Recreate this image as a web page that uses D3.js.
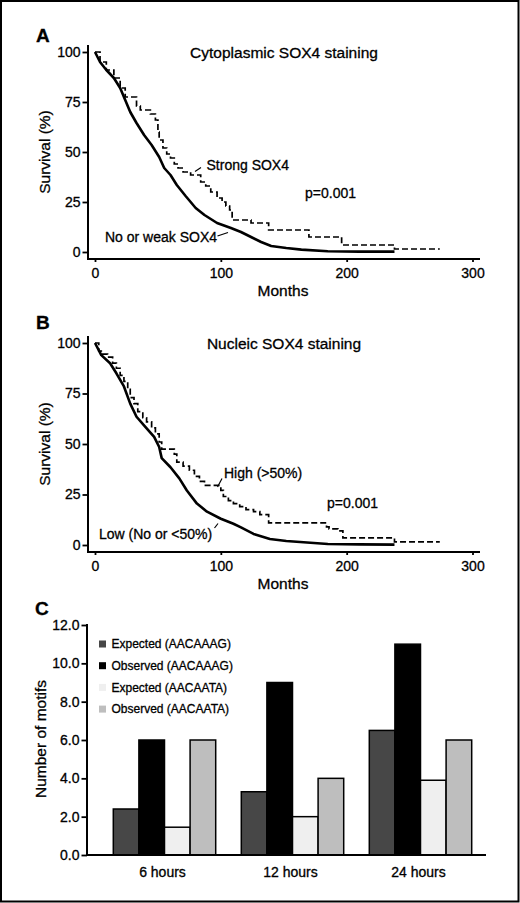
<!DOCTYPE html>
<html>
<head>
<meta charset="utf-8">
<script src="https://cdn.jsdelivr.net/npm/d3@7"></script>
<style>
  body { margin: 0; background: #fff; }
  svg text { font-family: "Liberation Sans", Arial, Helvetica, sans-serif; fill: #000; stroke: #000; stroke-width: 0.3px; }
</style>
</head>
<body>
<div id="chart"></div>
<script>
// ---- data ----
const monthTicks = [0, 100, 200, 300];
const survivalTicks = [0, 25, 50, 75, 100];

// [months, survival %]
const cytoWeak = [[0,100],[4,95],[9,91],[15,87],[20,82],[24,76],[28,70],[33,64.5],[39,58.5],[45,53.5],[51,47.5],[55,42],[60,38.5],[65,33.5],[72,28],[80,22],[87,18.5],[97,14.5],[108,12],[116,10],[124,7.5],[132,5],[140,3],[152,2],[164,1.2],[185,0.4],[210,0.2],[238,0.2]];
const cytoStrong = [[0,100],[4,95],[9,91],[15,87],[20,82],[24,77.5],[33,73],[36,71],[44,69],[48,66],[50,60],[51,56],[54,52],[57,49],[60,47],[63,44],[66,42],[70,40],[76,38.5],[84,35],[88,33],[92,30],[97,27],[101,25],[104,23],[107,21],[109,16],[124,14.5],[138,11],[170,7.5],[196,3.5],[238,1.5],[274,1.5]];
const nucLow = [[0,100],[5,94],[12,90],[17,85],[23,78.5],[28,70],[33,63.5],[40,58.5],[47,53.5],[51,48.5],[53,43],[60,38.5],[67,33],[73,27],[81,20.5],[89,16.5],[100,13],[110,10.5],[116,8.7],[126,5.5],[139,3],[152,2],[163,1.5],[185,0.5],[210,0.3],[238,0.2]];
const nucHigh = [[0,100],[3,96],[5,94.5],[10,93],[14,90],[17,87.5],[20,84],[23,81],[26,77],[28,73],[31,70],[34,66],[38,63],[41,61],[45,58],[48,55],[51,51],[53,47.5],[63,45],[65,41],[70,39],[75,37],[79,34],[83,31.5],[87,29.5],[100,27],[102,24],[106,22],[110,20.5],[115,19],[120,17.5],[126,16.5],[131,15],[138,11],[184,9],[186,8],[193,7],[197,3.5],[238,1.5],[274,1.5]];

const timepoints = ['6 hours', '12 hours', '24 hours'];
const motifSeries = ['Expected (AACAAAG)', 'Observed (AACAAAG)', 'Expected (AACAATA)', 'Observed (AACAATA)'];
const expectedAAG = [2.4, 3.3, 6.5];
const observedAAG = [6.0, 9.0, 11.0];
const expectedAATA = [1.45, 2.0, 3.9];
const observedAATA = [6.0, 4.0, 6.0];
const motifTicks = [0, 2, 4, 6, 8, 10, 12];
const motifColors = ['#474747', '#000000', '#efefef', '#bebebe'];

const W = 520, H = 903;
const svg = d3.select('#chart').append('svg')
    .attr('width', W)
    .attr('height', H);

svg.append('rect')
    .attr('x', 1).attr('y', 1)
    .attr('width', W - 2.5).attr('height', H - 2.5)
    .attr('fill', 'none')
    .attr('stroke', '#000')
    .attr('stroke-width', 2);

// one Kaplan-Meier panel
function drawKM(p) {
    const g = svg.append('g');
    const x = d3.scaleLinear().domain([0, 300]).range([95, 472.5]);
    const y = d3.scaleLinear().domain([0, 100]).range([p.y0, p.y100]);
    const axisY = p.y0 + 7;

    // y axis
    g.append('g')
        .attr('transform', 'translate(88,0)')
        .call(d3.axisLeft(y).tickValues(survivalTicks).tickSize(5.5).tickPadding(2))
        .call(a => a.select('.domain').remove())
        .call(a => a.selectAll('line').attr('stroke-width', 1.8))
        .call(a => a.selectAll('text').style('font-size', '14px'));
    g.append('line')
        .attr('x1', 88).attr('x2', 88)
        .attr('y1', p.y100 - 7).attr('y2', axisY + 1)
        .attr('stroke', '#000').attr('stroke-width', 2);

    // x axis
    g.append('g')
        .attr('transform', `translate(0,${axisY})`)
        .call(d3.axisBottom(x).tickValues(monthTicks).tickSize(3).tickPadding(5.7))
        .call(a => a.select('.domain').remove())
        .call(a => a.selectAll('line').attr('stroke-width', 1.8))
        .call(a => a.selectAll('text').style('font-size', '14px'));
    g.append('line')
        .attr('x1', 87).attr('x2', 480)
        .attr('y1', axisY).attr('y2', axisY)
        .attr('stroke', '#000').attr('stroke-width', 2);

    const solid = d3.line().x(d => x(d[0])).y(d => y(d[1])).curve(d3.curveLinear);
    const step = d3.line().x(d => x(d[0])).y(d => y(d[1])).curve(d3.curveStepAfter);

    g.append('path')
        .attr('d', step(p.high))
        .attr('fill', 'none')
        .attr('stroke', '#000')
        .attr('stroke-width', 1.7)
        .attr('stroke-dasharray', '6,3');

    g.append('path')
        .attr('d', solid(p.low))
        .attr('fill', 'none')
        .attr('stroke', '#000')
        .attr('stroke-width', 2.6)
        .attr('stroke-linejoin', 'round');

    // labels
    g.append('text')
        .attr('x', 36).attr('y', p.letterY)
        .style('font-size', '19px').style('font-weight', 'bold')
        .text(p.letter);
    g.append('text')
        .attr('x', 284).attr('y', p.titleY)
        .attr('text-anchor', 'middle')
        .style('font-size', '15.5px')
        .text(p.title);
    g.append('text')
        .attr('transform', `translate(49.5,${(p.y0 + p.y100) / 2}) rotate(-90)`)
        .attr('text-anchor', 'middle')
        .style('font-size', '15.5px')
        .text('Survival (%)');
    g.append('text')
        .attr('x', 283).attr('y', axisY + 37)
        .attr('text-anchor', 'middle')
        .style('font-size', '15.5px')
        .text('Months');

    // curve annotations
    g.append('text')
        .attr('x', p.highLabel[0]).attr('y', p.highLabel[1])
        .style('font-size', '14px')
        .text(p.highText);
    g.append('line')
        .attr('x1', p.highLeader[0]).attr('y1', p.highLeader[1])
        .attr('x2', p.highLeader[2]).attr('y2', p.highLeader[3])
        .attr('stroke', '#000').attr('stroke-width', 1.2);
    g.append('text')
        .attr('x', p.lowLabel[0]).attr('y', p.lowLabel[1])
        .style('font-size', '14px')
        .text(p.lowText);
    g.append('line')
        .attr('x1', p.lowLeader[0]).attr('y1', p.lowLeader[1])
        .attr('x2', p.lowLeader[2]).attr('y2', p.lowLeader[3])
        .attr('stroke', '#000').attr('stroke-width', 1.2);
    g.append('text')
        .attr('x', p.pPos[0]).attr('y', p.pPos[1])
        .style('font-size', '14px')
        .text('p=0.001');
}

drawKM({
    y0: 252, y100: 52, letter: 'A', letterY: 42, titleY: 57.5,
    title: 'Cytoplasmic SOX4 staining',
    low: cytoWeak, high: cytoStrong,
    highText: 'Strong SOX4', highLabel: [206.5, 170], highLeader: [195, 171.5, 201, 167.5],
    lowText: 'No or weak SOX4', lowLabel: [105, 241.5], lowLeader: [217.5, 236, 228, 232.5],
    pPos: [305, 198]
});

drawKM({
    y0: 545, y100: 343, letter: 'B', letterY: 328.5, titleY: 349,
    title: 'Nucleic SOX4 staining',
    low: nucLow, high: nucHigh,
    highText: 'High (>50%)', highLabel: [224, 478], highLeader: [217.5, 487, 222, 478.5],
    lowText: 'Low (No or <50%)', lowLabel: [99, 538.5], lowLeader: [214.5, 528, 218, 523.5],
    pPos: [327, 508]
});

// ---- panel C: motif counts ----
const cg = svg.append('g');
const yC = d3.scaleLinear().domain([0, 12]).range([855, 625]);
const xC = d3.scaleBand().domain(timepoints).range([100.5, 484.5]).paddingInner(0.2).paddingOuter(0.1);
const xS = d3.scaleBand().domain(motifSeries).range([0, xC.bandwidth()]);
const seriesValues = [expectedAAG, observedAAG, expectedAATA, observedAATA];

cg.append('g')
    .attr('transform', 'translate(87,0)')
    .call(d3.axisLeft(yC).tickValues(motifTicks).tickFormat(d3.format('.1f')).tickSize(5.5).tickPadding(2))
    .call(a => a.select('.domain').remove())
    .call(a => a.selectAll('line').attr('stroke-width', 1.8))
    .call(a => a.selectAll('text').style('font-size', '14px'));

const groups = cg.selectAll('.group')
    .data(timepoints)
    .enter()
    .append('g')
    .attr('class', 'group')
    .attr('transform', d => `translate(${xC(d)},0)`);

groups.selectAll('rect')
    .data((t, i) => motifSeries.map((s, j) => ({ series: s, value: seriesValues[j][i], color: motifColors[j] })))
    .enter()
    .append('rect')
    .attr('x', d => xS(d.series))
    .attr('y', d => yC(d.value))
    .attr('width', xS.bandwidth())
    .attr('height', d => yC(0) - yC(d.value))
    .attr('fill', d => d.color)
    .attr('stroke', '#000')
    .attr('stroke-width', 1.5);

cg.append('line')
    .attr('x1', 87).attr('x2', 87).attr('y1', 624).attr('y2', 856)
    .attr('stroke', '#000').attr('stroke-width', 2);
cg.append('line')
    .attr('x1', 86).attr('x2', 486).attr('y1', 855).attr('y2', 855)
    .attr('stroke', '#000').attr('stroke-width', 2);

cg.selectAll('.tlabel')
    .data(timepoints)
    .enter()
    .append('text')
    .attr('class', 'tlabel')
    .attr('x', d => xC(d) + xC.bandwidth() / 2 - 2)
    .attr('y', 876.5)
    .attr('text-anchor', 'middle')
    .style('font-size', '14px')
    .text(d => d);

// legend
const legend = cg.selectAll('.legend')
    .data(motifSeries)
    .enter()
    .append('g')
    .attr('class', 'legend')
    .attr('transform', (d, i) => `translate(99,${644 + i * 21.7})`);
legend.append('rect')
    .attr('x', 0).attr('y', -3.5)
    .attr('width', 7).attr('height', 7)
    .attr('fill', (d, i) => motifColors[i]);
legend.append('text')
    .attr('x', 12.5).attr('y', 4.3)
    .style('font-size', '12px')
    .text(d => d);

cg.append('text')
    .attr('x', 35).attr('y', 615)
    .style('font-size', '19px').style('font-weight', 'bold')
    .text('C');
cg.append('text')
    .attr('transform', 'translate(46,739) rotate(-90)')
    .attr('text-anchor', 'middle')
    .style('font-size', '15.5px')
    .text('Number of motifs');
</script>
</body>
</html>
